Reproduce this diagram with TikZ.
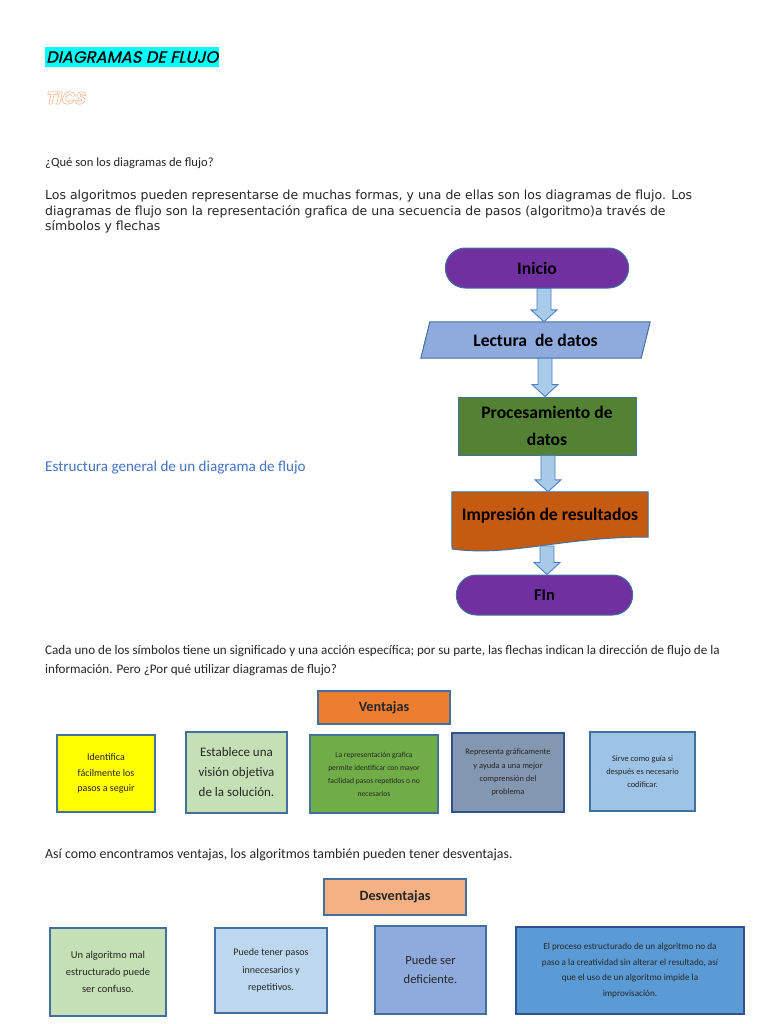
\documentclass[tikz,border=0pt]{standalone}
\usepackage{fontspec}
\setmainfont{Carlito}
\newfontfamily\dejavu{DejaVu Sans}
\newfontfamily\titlef{Poppins}[FakeSlant=0.22]
\newfontfamily\titleb{Poppins}[FakeSlant=0.22, FakeBold=0.7]
\usetikzlibrary{shapes.misc,calc}
\pgfdeclarelayer{bg}
\pgfsetlayers{bg,main}
\definecolor{hl}{HTML}{00FFFF}
\definecolor{ticsc}{HTML}{F4A97A}
\definecolor{purp}{HTML}{7030A0}
\definecolor{lect}{HTML}{8FAADC}
\definecolor{procg}{HTML}{548235}
\definecolor{imprc}{HTML}{C55A11}
\definecolor{arrfill}{HTML}{A9CBEA}
\definecolor{arrline}{HTML}{4A7EC4}
\definecolor{shline}{HTML}{41719C}
\definecolor{bluetxt}{HTML}{4472C4}
\definecolor{venth}{HTML}{ED7D31}
\definecolor{desvh}{HTML}{F4B183}
\definecolor{yel}{HTML}{FFFF00}
\definecolor{lgreen}{HTML}{C5E0B4}
\definecolor{mgreen}{HTML}{70AD47}
\definecolor{slate}{HTML}{8497B0}
\definecolor{lblue}{HTML}{9DC3E6}
\definecolor{pblue}{HTML}{BDD7EE}
\definecolor{mblue}{HTML}{5B9BD5}
\definecolor{dkline}{HTML}{2F528F}
\definecolor{txt}{HTML}{262626}
\newcommand\barrow[3]{%
  \draw[blockarr] let \p1=(#2.south), \p2=(#3.north) in
    (#1pt-7pt,\y1) -- (#1pt-7pt,\y2+12pt) -- (#1pt-13pt,\y2+12pt) -- (#1pt,\y2)
    -- (#1pt+13pt,\y2+12pt) -- (#1pt+7pt,\y2+12pt) -- (#1pt+7pt,\y1) -- cycle;}
\begin{document}
\begin{tikzpicture}[x=1pt,y=-1pt,
  plain/.style={anchor=base west, inner sep=0, text=txt},
  body/.style={plain, font=\dejavu\fontsize{12.5}{14}\selectfont},
  cal/.style={plain, font=\fontsize{13.1}{15}\selectfont},
  term/.style={rounded rectangle, draw=shline, line width=1pt, fill=purp,
    font=\bfseries\fontsize{17.6}{20}\selectfont, text=black},
  flow/.style={inner sep=0, font=\bfseries\fontsize{17.6}{27}\selectfont, text=black, align=center},
  blockarr/.style={draw=arrline, fill=arrfill, line width=0.9pt, line join=miter},
  box/.style={draw=shline, line width=1.2pt, align=center, inner sep=0, text=txt},
  head/.style={box, font=\bfseries\fontsize{14.2}{16}\selectfont}
]
\useasboundingbox (0,0) rectangle (768,1024);

% title
\node[anchor=west, fill=hl, inner xsep=1pt, inner ysep=0pt, minimum height=20,
  font=\titleb\fontsize{16.4}{18}\selectfont] (title) at (45,57) {DIAGRAMAS DE FLUJO};
\node[anchor=west, inner sep=0, text=ticsc, font=\titlef\bfseries\fontsize{17.5}{18}\selectfont] (tics) at (45,98)
  {\special{pdf:literal direct 0.957 0.663 0.478 RG 0.5 w 1 Tr}TICS\special{pdf:literal direct 0 Tr}};

% intro
\node[cal, font=\fontsize{12.6}{14}\selectfont] (q1) at (45,167) {¿Qué son los diagramas de flujo?};
\node[body] (p1) at (45,200) {Los algoritmos pueden representarse de muchas formas, y una de ellas son los diagramas de flujo. Los};
\node[body] (p2) at (45,215) {diagramas de flujo son la representación grafica de una secuencia de pasos (algoritmo)a través de};
\node[body] (p3) at (45,230) {símbolos y flechas};

\node[plain, text=bluetxt, font=\fontsize{15.1}{17}\selectfont] (estr) at (45,471) {Estructura general de un diagrama de flujo};

% flowchart
\node[term, minimum width=190, minimum height=40] (ini) at (537,268) {Inicio};
\node[flow, minimum width=220, minimum height=36] (lec) at (535.5,340) {Lectura\ \ de datos};
\node[flow, draw=shline, line width=1pt, fill=procg, minimum width=178, minimum height=58] (pro) at (547,426)
  {Procesamiento de\\datos};
\node[flow, minimum width=196, minimum height=48] (imp) at (550,516) {Impresión de resultados};
\node[term, minimum width=183, minimum height=40, font=\bfseries\fontsize{16.5}{18}\selectfont] (fin) at (544.5,595) {FIn};
\coordinate (impb) at (547,546);
\begin{pgfonlayer}{bg}
\draw[draw=shline, line width=1pt, fill=lect]
  ([xshift=4.5pt]lec.north west) -- ([xshift=4.5pt]lec.north east)
  -- ([xshift=-4.5pt]lec.south east) -- ([xshift=-4.5pt]lec.south west) -- cycle;
\draw[draw=shline, line width=1pt, fill=imprc]
  (imp.north west) -- (imp.north east) -- (648,537)
  .. controls (560,537) and (510,557) .. (452,549) -- cycle;
\end{pgfonlayer}
\barrow{544}{ini}{lec}
\barrow{545}{lec}{pro}
\barrow{548}{pro}{imp}
\barrow{547}{impb}{fin}

% second text
\node[cal] (c1) at (45,654) {Cada uno de los símbolos tiene un significado y una acción específica; por su parte, las flechas indican la dirección de flujo de la};
\node[cal] (c2) at (45,673) {información. Pero ¿Por qué utilizar diagramas de flujo?};

% ventajas
\node[head, fill=venth, minimum width=132, minimum height=33] (vent) at (384,707.5) {Ventajas};
\node[box, fill=yel, minimum width=98, minimum height=77, font=\fontsize{10}{15.5}\selectfont] (v1) at (106,773.5)
  {Identifica\\fácilmente los\\pasos a seguir};
\node[box, fill=lgreen, minimum width=101, minimum height=81, font=\fontsize{13}{20}\selectfont] (v2) at (236.5,772.5)
  {Establece una\\visión objetiva\\de la solución.};
\node[box, fill=mgreen, minimum width=128, minimum height=78, font=\fontsize{7.6}{13}\selectfont] (v3) at (374,774)
  {La representación grafica\\permite identificar con mayor\\facilidad pasos repetidos o no\\necesarios};
\node[box, draw=dkline, fill=slate, minimum width=112, minimum height=79, font=\fontsize{8.4}{13.3}\selectfont] (v4) at (508,772.5)
  {Representa gráficamente\\y ayuda a una mejor\\comprensión del\\problema};
\node[box, fill=lblue, minimum width=105, minimum height=79, font=\fontsize{8.4}{13}\selectfont] (v5) at (642.5,771.5)
  {Sirve como guía si\\después es necesario\\codificar.};

\node[cal, font=\fontsize{13.9}{16}\selectfont] (asi) at (45,858) {Así como encontramos ventajas, los algoritmos también pueden tener desventajas.};

% desventajas
\node[head, fill=desvh, minimum width=142, minimum height=36] (desv) at (395,897) {Desventajas};
\node[box, fill=lgreen, minimum width=116, minimum height=88, font=\fontsize{10.5}{17}\selectfont] (d1) at (108,972)
  {Un algoritmo mal\\estructurado puede\\ser confuso.};
\node[box, fill=pblue, minimum width=112, minimum height=85, font=\fontsize{10}{17.5}\selectfont] (d2) at (271,970.5)
  {Puede tener pasos\\innecesarios y\\repetitivos.};
\node[box, fill=lect, minimum width=111, minimum height=88, font=\fontsize{12.5}{19}\selectfont] (d3) at (430.5,970)
  {Puede ser\\deficiente.};
\node[box, draw=dkline, fill=mblue, minimum width=228, minimum height=87, font=\fontsize{9.2}{15.5}\selectfont] (d4) at (630,970.5)
  {El proceso estructurado de un algoritmo no da\\paso a la creatividad sin alterar el resultado, así\\que el uso de un algoritmo impide la\\improvisación.};
\end{tikzpicture}
\end{document}
